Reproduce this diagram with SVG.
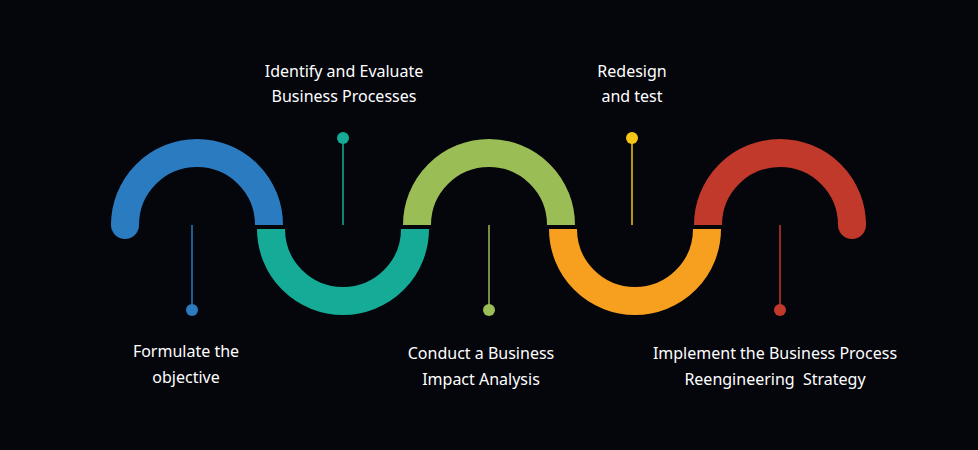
<svg xmlns="http://www.w3.org/2000/svg" width="978" height="450" viewBox="0 0 978 450">
<style>
.arc{fill:none;stroke-width:28}
.ln{stroke-width:1.5}
.t{font-family:"Noto Sans","Open Sans",sans-serif;font-size:16px;fill:#ffffff;text-anchor:middle}
</style>
<rect width="978" height="450" fill="#05050c"/>
<g id="arcs">
<g id="arc1"><path class="arc" stroke="#2a7bbf" d="M125,225 A72,72 0 0 1 269,225"/><circle cx="125" cy="225" r="14" fill="#2a7bbf"/></g>
<g id="arc2"><path class="arc" stroke="#15ab96" d="M271,229 A72,72 0 0 0 415,229"/></g>
<g id="arc3"><path class="arc" stroke="#9bbd55" d="M417,225 A72,72 0 0 1 561,225"/></g>
<g id="arc4"><path class="arc" stroke="#f7a020" d="M563,229 A72,72 0 0 0 707,229"/></g>
<g id="arc5"><path class="arc" stroke="#c0392b" d="M708,225 A72,72 0 0 1 852,225"/><circle cx="852" cy="225" r="14" fill="#c0392b"/></g>
</g>
<g id="connectors">
<line class="ln" x1="192" y1="225" x2="192" y2="310" stroke="#2a7bbf"/>
<line class="ln" x1="343" y1="138" x2="343" y2="225" stroke="#15ab96"/>
<line class="ln" x1="489" y1="225" x2="489" y2="310" stroke="#9bbd55"/>
<line class="ln" x1="632" y1="138" x2="632" y2="225" stroke="#f5c518"/>
<line class="ln" x1="780" y1="225" x2="780" y2="310" stroke="#c0392b"/>
</g>
<g id="n1"><circle cx="192" cy="310" r="6" fill="#2a7bbf"/><text class="t" x="186" y="357">Formulate the</text><text class="t" x="186" y="383">objective</text></g>
<g id="n2"><circle cx="343" cy="138" r="6" fill="#15ab96"/><text class="t" x="344" y="77">Identify and Evaluate</text><text class="t" x="344" y="102">Business Processes</text></g>
<g id="n3"><circle cx="489" cy="310" r="6" fill="#9bbd55"/><text class="t" x="481" y="359">Conduct a Business</text><text class="t" x="481" y="385">Impact Analysis</text></g>
<g id="n4"><circle cx="632" cy="138" r="6" fill="#f5c518"/><text class="t" x="632" y="77">Redesign</text><text class="t" x="632" y="102">and test</text></g>
<g id="n5"><circle cx="780" cy="310" r="6" fill="#c0392b"/><text class="t" x="775" y="359">Implement the Business Process</text><text class="t" x="775" y="385" xml:space="preserve">Reengineering  Strategy</text></g>
</svg>
